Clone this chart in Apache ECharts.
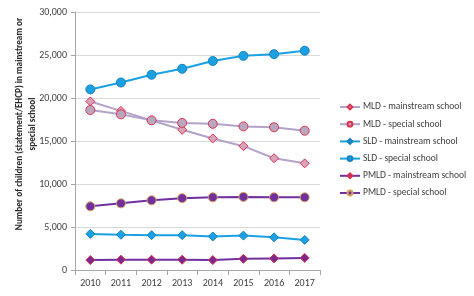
<!DOCTYPE html>
<html>
<head>
<meta charset="utf-8">
<script src="https://cdn.jsdelivr.net/npm/echarts@6/dist/echarts.min.js"></script>
<style>
  html, body { margin: 0; padding: 0; background: #fff; }
  #chart { width: 474px; height: 296px; }
</style>
</head>
<body>
<div id="chart"></div>
<script>
// years on the x axis
const years = ["2010", "2011", "2012", "2013", "2014", "2015", "2016", "2017"]

// values
const mldMainstream = [19600, 18500, 17400, 16300, 15300, 14400, 13000, 12400]
const mldSpecial = [18600, 18100, 17400, 17100, 17000, 16700, 16600, 16200]
const sldMainstream = [4200, 4100, 4050, 4050, 3900, 4000, 3800, 3500]
const sldSpecial = [21000, 21800, 22700, 23400, 24300, 24900, 25100, 25500]
const pmldMainstream = [1150, 1200, 1200, 1200, 1150, 1300, 1350, 1400]
const pmldSpecial = [7400, 7750, 8100, 8350, 8450, 8500, 8450, 8450]

const chart = echarts.init(document.getElementById("chart"), null, { renderer: "canvas" })

function makeSeries(name, data, lineColor, symbol, fill, border, size) {
    return {
        name,
        type: "line",
        data,
        symbol,
        symbolSize: size,
        lineStyle: { color: lineColor, width: 2 },
        itemStyle: { color: fill, borderColor: border, borderWidth: 1 },
        emphasis: { disabled: true },
        animation: false,
    }
}

const font = "Calibri, Carlito, Lato, 'Liberation Sans', sans-serif"

chart.setOption({
    animation: false,
    textStyle: { fontFamily: font },
    grid: { left: 75, right: 154, top: 12, bottom: 26, outerBoundsMode: "none", containLabel: false },
    legend: {
        orient: "vertical",
        left: 334,
        top: 97,
        itemWidth: 20,
        itemHeight: 6,
        itemGap: 7.2,
        textStyle: { color: "#404040", fontSize: 9.5, fontFamily: font, padding: [0, 0, 0, -2] },
        data: [
            "MLD - mainstream school",
            "MLD - special school",
            "SLD - mainstream school",
            "SLD - special school",
            "PMLD - mainstream school",
            "PMLD - special school",
        ],
    },
    xAxis: {
        type: "category",
        data: years,
        boundaryGap: true,
        axisLine: { lineStyle: { color: "#a6a6a6" } },
        axisTick: { show: true, length: 5, lineStyle: { color: "#a6a6a6" } },
        axisLabel: { color: "#404040", fontSize: 10, margin: 8 },
    },
    yAxis: {
        type: "value",
        min: 0,
        max: 30000,
        interval: 5000,
        name: "Number of children (statement/EHCP) in mainstream or\nspecial school",
        nameLocation: "middle",
        nameRotate: 90,
        nameGap: 36,
        nameMoveOverlap: false,
        // left padding nudges the title up a little, like the original
        nameTextStyle: {
            color: "#262626",
            fontSize: 9.2,
            fontWeight: "bold",
            lineHeight: 13,
            padding: [0, 0, 0, 34],
        },
        axisLine: { show: true, lineStyle: { color: "#a6a6a6" } },
        axisTick: { show: true, length: 4, inside: false, lineStyle: { color: "#a6a6a6" } },
        splitLine: { lineStyle: { color: "#d9d9d9" } },
        axisLabel: {
            color: "#404040",
            fontSize: 10,
            margin: 8,
            formatter: (v) => v.toLocaleString("en-US"),
        },
    },
    series: [
        makeSeries("MLD - mainstream school", mldMainstream, "#b3a3c9", "diamond", "#d7a3b9", "#e0304f", 9),
        makeSeries("MLD - special school", mldSpecial, "#b3a3c9", "circle", "#b8a8bf", "#e0304f", 9),
        makeSeries("SLD - mainstream school", sldMainstream, "#1ba1e2", "diamond", "#1ba1e2", "#1682c0", 9),
        makeSeries("SLD - special school", sldSpecial, "#1ba1e2", "circle", "#1ba1e2", "#1682c0", 9),
        makeSeries("PMLD - mainstream school", pmldMainstream, "#7030a0", "diamond", "#7a2a8f", "#e0304f", 9),
        makeSeries("PMLD - special school", pmldSpecial, "#7030a0", "circle", "#7030a0", "#d9a05a", 9),
    ],
})
</script>
</body>
</html>
